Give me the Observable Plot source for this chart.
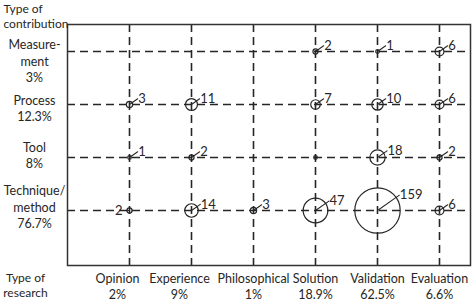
<!DOCTYPE html>
<html>
<head>
<meta charset="utf-8">
<script src="https://cdn.jsdelivr.net/npm/d3@7"></script>
<script src="https://cdn.jsdelivr.net/npm/@observablehq/plot@0.6"></script>
<style>
  html, body { margin: 0; padding: 0; background: #fff; }
  #chart svg { display: block; }
</style>
</head>
<body>
<div id="chart"></div>
<script>
// ---- data ----
const research = ["Opinion", "Experience", "Philosophical", "Solution", "Validation", "Evaluation"];
const researchPct = ["2%", "9%", "1%", "18.9%", "62.5%", "6.6%"];
const contribution = ["Measurement", "Process", "Tool", "Technique/method"];
const contributionLabels = ["Measure-\nment", "Process", "Tool", "Technique/\nmethod"];
const contributionPct = ["3%", "12.3%", "8%", "76.7%"];
// counts per research type (same order as `research`); 0 = no paper
const measurementCounts = [0, 0, 0, 2, 1, 6];
const processCounts = [3, 11, 0, 7, 10, 6];
const toolCounts = [1, 2, 0, 1, 18, 2];
const techniqueCounts = [2, 14, 3, 47, 159, 6];

const countsByContribution = [measurementCounts, processCounts, toolCounts, techniqueCounts];
const cells = [];
contribution.forEach((c, ci) => {
  countsByContribution[ci].forEach((v, ri) => {
    if (v > 0) cells.push({research: research[ri], contribution: c, value: v});
  });
});

const maxValue = d3.max(cells, d => d.value);
const rMax = 22.7;
const radius = v => rMax * Math.sqrt(v / maxValue);

// labels (the Solution/Tool bubble carries no label in the original)
const labeled = cells.filter(d => !(d.research === "Solution" && d.contribution === "Tool"));
const ink = "#262626";
const angle = 55 * Math.PI / 180;

const leaderMarks = [];
const labelMarks = [];
for (const d of labeled) {
  const left = d.research === "Opinion" && d.contribution === "Technique/method";
  if (left) {
    leaderMarks.push(Plot.vector([d], {x: "research", y: "contribution", length: 7, rotate: -90,
      shape: "spike", r: 0.01, fill: "none", stroke: ink, strokeWidth: 1, anchor: "start"}));
    labelMarks.push(Plot.text([d], {x: "research", y: "contribution", text: d => String(d.value),
      dx: -7, dy: 0, textAnchor: "end", lineAnchor: "middle", fill: ink, fontSize: 13}));
  } else {
    const dist = Math.max(radius(d.value) + 4, 10);
    leaderMarks.push(Plot.vector([d], {x: "research", y: "contribution", length: dist, rotate: 55,
      shape: "spike", r: 0.01, fill: "none", stroke: ink, strokeWidth: 1, anchor: "start"}));
    labelMarks.push(Plot.text([d], {x: "research", y: "contribution", text: d => String(d.value),
      dx: dist * Math.sin(angle) + 0.5, dy: -dist * Math.cos(angle), textAnchor: "start",
      lineAnchor: "middle", fill: ink, fontSize: 13}));
  }
}

const xTickFormat = d => d + "\n" + researchPct[research.indexOf(d)];
const yTickFormat = d => contributionLabels[contribution.indexOf(d)] + "\n" + contributionPct[contribution.indexOf(d)];
const xAxisOpts = {tickSize: 0, tickPadding: 6, lineHeight: 1.28, fontSize: 12.5, fill: ink, label: null, tickFormat: xTickFormat};
const yAxisOpts = {tickSize: 0, tickPadding: 0, dx: -33, textAnchor: "middle", lineAnchor: "middle",
  lineHeight: 1.3, fontSize: 12.5, fill: ink, label: null, tickFormat: yTickFormat};
// vertical nudges of the row-label text blocks, as placed in the original
const yNudge = [9, 3, -3, -4];

const chart = Plot.plot({
  width: 474,
  height: 301,
  marginLeft: 67,
  marginRight: 4,
  marginTop: 24,
  marginBottom: 36,
  style: {fontFamily: "Lato, 'Liberation Sans', sans-serif", fontSize: "13px", color: ink, background: "#fff"},
  x: {type: "point", domain: research, padding: 0.75, align: 2 / 3, axis: null},
  y: {type: "point", domain: contribution, padding: 0.75, align: 1 / 3, axis: null},
  r: {type: "sqrt", domain: [0, maxValue], range: [0, rMax]},
  marks: [
    Plot.ruleX(research, {x: d => d, stroke: ink, strokeWidth: 1.6, strokeDasharray: "8,5"}),
    Plot.ruleY(contribution, {y: d => d, stroke: ink, strokeWidth: 1.6, strokeDasharray: "8,5"}),
    Plot.frame({stroke: "#333", strokeWidth: 1.5}),
    Plot.dot(cells, {x: "research", y: "contribution", r: "value", stroke: ink, strokeWidth: 1.2, fill: "none"}),
    ...leaderMarks,
    ...labelMarks,
    Plot.axisX(research.slice(0, 2), {...xAxisOpts, dx: -12}),
    Plot.axisX(research.slice(2), {...xAxisOpts}),
    ...contribution.map((c, i) => Plot.axisY([c], {...yAxisOpts, dy: yNudge[i]})),
    Plot.text(["Type of\ncontribution"], {frameAnchor: "top-left", text: d => d, dx: -64, dy: 3,
      textAnchor: "start", lineAnchor: "bottom", lineHeight: 1.2, fontSize: 12, fill: ink}),
    Plot.text(["Type of\nresearch"], {frameAnchor: "bottom-left", text: d => d, dx: -42, dy: 6,
      textAnchor: "middle", lineAnchor: "top", lineHeight: 1.25, fontSize: 12, fill: ink})
  ]
});
document.getElementById("chart").appendChild(chart);
</script>
</body>
</html>
